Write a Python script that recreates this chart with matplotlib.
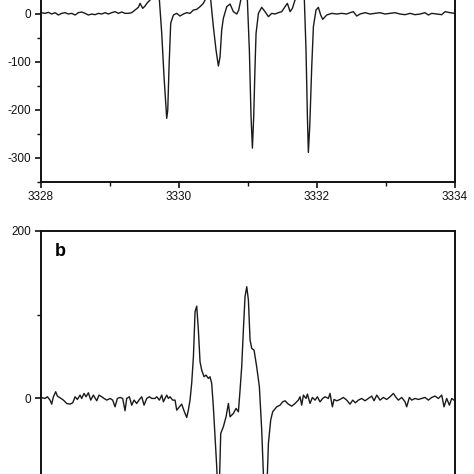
import matplotlib
matplotlib.use("Agg")
import matplotlib.pyplot as plt
from matplotlib.ticker import MultipleLocator

plt.rcParams['font.family'] = ['Liberation Sans', 'DejaVu Sans']
plt.rcParams['axes.unicode_minus'] = False

# panel a: field (G) and signal (a.u.)
field_a = [3328.000, 3328.063, 3328.111, 3328.159, 3328.208, 3328.256, 3328.304, 3328.353,
           3328.401, 3328.449, 3328.498, 3328.546, 3328.594, 3328.643, 3328.691, 3328.739,
           3328.787, 3328.836, 3328.884, 3328.932, 3328.981, 3329.029, 3329.077, 3329.126,
           3329.174, 3329.222, 3329.271, 3329.319, 3329.367, 3329.415, 3329.440, 3329.478,
           3329.512, 3329.546, 3329.585, 3329.657, 3329.720, 3329.754, 3329.787, 3329.826,
           3329.841, 3329.860, 3329.884, 3329.923, 3329.971, 3330.019, 3330.068, 3330.116,
           3330.164, 3330.213, 3330.261, 3330.309, 3330.357, 3330.382, 3330.415, 3330.464,
           3330.502, 3330.541, 3330.575, 3330.599, 3330.623, 3330.647, 3330.696, 3330.744,
           3330.792, 3330.841, 3330.870, 3330.899, 3330.952, 3330.995, 3331.024, 3331.048,
           3331.068, 3331.087, 3331.106, 3331.121, 3331.155, 3331.203, 3331.251, 3331.300,
           3331.348, 3331.396, 3331.444, 3331.493, 3331.541, 3331.575, 3331.614, 3331.647,
           3331.686, 3331.749, 3331.821, 3331.845, 3331.865, 3331.879, 3331.899, 3331.928,
           3331.952, 3331.990, 3332.024, 3332.058, 3332.087, 3332.145, 3332.217, 3332.290,
           3332.362, 3332.435, 3332.483, 3332.531, 3332.580, 3332.628, 3332.700, 3332.773,
           3332.845, 3332.918, 3332.990, 3333.063, 3333.135, 3333.208, 3333.280, 3333.353,
           3333.425, 3333.498, 3333.570, 3333.618, 3333.667, 3333.739, 3333.812, 3333.860,
           3333.932, 3334.000]
signal_a = [2.1, 0.7, 2.8, -0.7, 2.1, -2.8, 0.7, 2.1,
            -0.7, 0.7, -2.8, 2.1, 3.5, 0.7, -2.8, -0.7,
            -2.1, 0.7, -0.7, 2.1, -0.7, 2.1, 4.2, 0.7,
            3.5, 0.7, 0.7, 2.1, 7.6, 13.2, 21.5, 11.1,
            16.0, 22.9, 28.5, 180, 28.5, -41, -131, -218,
            -201, -110, -20, -2.8, 0.7, -4.9, -0.7, 2.1,
            0.7, 7.6, 9.0, 14.6, 21.5, 28.5, 120, 28.5,
            -27, -76, -109, -90, -34, -9.7, 14.6, 20.1,
            4.2, -0.7, 7.6, 28.5, 200, 28.5, -76, -214,
            -280, -214, -110, -41, 0.7, 13.2, 4.2, -6.2,
            0.7, -0.7, 2.1, 4.2, 14.6, 21.5, 4.2, 11.1,
            28.5, 230, 28.5, -76, -214, -289, -235, -110,
            -27, 7.6, 13.2, -2.8, -11.8, -2.8, 0.7, -0.7,
            0.7, -0.7, 2.1, 4.2, -4.9, -0.7, 2.1, -0.7,
            0.7, 2.1, -0.7, 0.7, 2.1, -0.7, -2.1, 0.7,
            -2.1, -0.7, 2.1, -2.8, 0.7, -0.7, -2.1, 4.2,
            2.1, 0.7]
ticks_a = [-300, -200, -100, 0]

# panel b
field_b = [3328.000, 3328.063, 3328.097, 3328.135, 3328.159, 3328.184, 3328.217, 3328.242,
           3328.280, 3328.329, 3328.377, 3328.425, 3328.464, 3328.498, 3328.531, 3328.570,
           3328.594, 3328.628, 3328.657, 3328.691, 3328.725, 3328.763, 3328.812, 3328.845,
           3328.884, 3328.918, 3328.957, 3329.005, 3329.043, 3329.077, 3329.111, 3329.150,
           3329.188, 3329.222, 3329.246, 3329.285, 3329.319, 3329.353, 3329.391, 3329.430,
           3329.464, 3329.498, 3329.536, 3329.575, 3329.609, 3329.657, 3329.681, 3329.720,
           3329.754, 3329.778, 3329.826, 3329.850, 3329.874, 3329.913, 3329.947, 3329.971,
           3330.010, 3330.043, 3330.082, 3330.116, 3330.140, 3330.164, 3330.188, 3330.213,
           3330.237, 3330.261, 3330.285, 3330.309, 3330.333, 3330.367, 3330.396, 3330.430,
           3330.454, 3330.478, 3330.502, 3330.527, 3330.551, 3330.577, 3330.609, 3330.647,
           3330.686, 3330.720, 3330.744, 3330.792, 3330.831, 3330.865, 3330.889, 3330.913,
           3330.937, 3330.961, 3330.986, 3331.010, 3331.034, 3331.058, 3331.092, 3331.130,
           3331.169, 3331.203, 3331.227, 3331.256, 3331.285, 3331.300, 3331.333, 3331.362,
           3331.420, 3331.469, 3331.507, 3331.541, 3331.589, 3331.638, 3331.686, 3331.734,
           3331.758, 3331.783, 3331.807, 3331.845, 3331.865, 3331.903, 3331.937, 3331.976,
           3332.010, 3332.048, 3332.087, 3332.121, 3332.169, 3332.193, 3332.227, 3332.251,
           3332.290, 3332.338, 3332.386, 3332.435, 3332.483, 3332.522, 3332.560, 3332.604,
           3332.652, 3332.700, 3332.749, 3332.797, 3332.831, 3332.870, 3332.918, 3332.966,
           3333.014, 3333.063, 3333.111, 3333.150, 3333.184, 3333.232, 3333.280, 3333.304,
           3333.343, 3333.377, 3333.425, 3333.473, 3333.522, 3333.570, 3333.618, 3333.667,
           3333.715, 3333.763, 3333.812, 3333.845, 3333.884, 3333.923, 3333.957, 3333.990]
signal_b = [1.2, 0, 2.0, -2.0, -6.8, 2.0, 8.0, 2.8,
            0.8, -2.0, -6.0, -6.8, -5.2, 2.0, -1.2, 4.0,
            0, 6.0, 2.0, 6.8, -2.0, 4.0, -2.8, 4.0,
            2.0, 0, -2.0, 0, -2.0, -10.0, 0, 1.2,
            0, -14.7, 0, 2.0, -8.0, -2.0, -6.0, -1.2,
            2.0, -8.0, 0, 2.0, 0, 0, 2.0, -2.0,
            4.0, -4.0, 4.0, 0, 2.0, -2.0, -2.0, -13.9,
            -10.0, -6.8, -15.9, -22.7, -13.9, -2.0, 17.9, 49.8,
            103.5, 110.2, 81.6, 43.8, 33.8, 25.9, 27.9, 23.9,
            25.9, 17.9, -10.0, -45.8, -81.6, -140, -41.8, -33.8,
            -21.9, -6.0, -21.9, -17.9, -11.9, -15.9, 10.0, 37.8,
            81.6, 121.4, 133.3, 117.4, 69.7, 59.7, 57.7, 37.8,
            13.9, -37.8, -89.6, -170, -90, -53.7, -25.9, -15.9,
            -10.0, -8.0, -4.0, -2.8, -6.8, -9.2, -6.0, -2.0,
            2.0, -8.0, 4.0, 0, 5.2, -6.0, 1.2, -2.0,
            2.0, -4.0, 0, 2.0, 0, 6.0, -10.0, -1.2,
            -2.8, -1.2, 1.2, -2.0, -6.8, -2.0, -5.2, -2.0,
            0, -2.8, 0, 2.8, -2.8, 4.0, -2.0, 1.2,
            -1.2, 2.0, 6.0, 1.2, -2.0, 1.2, -4.0, -10.0,
            1.2, -2.0, 0, -1.2, 0, 1.2, -2.0, 1.2,
            2.8, 0, 4.0, -10.0, 0, -8.0, 0, -2.0]
ticks_b = [0, 200]


def style_axes(ax, yticks, yminor):
    for sp in ax.spines.values():
        sp.set_linewidth(1.4)
        sp.set_color('#111111')
    ax.xaxis.set_major_locator(MultipleLocator(2))
    ax.xaxis.set_minor_locator(MultipleLocator(1))
    ax.set_yticks(yticks)
    ax.yaxis.set_minor_locator(MultipleLocator(yminor))
    ax.tick_params(which='major', direction='out', length=4, width=1.2,
                   labelsize=8.5, colors='#111111', pad=3)
    ax.tick_params(which='minor', direction='out', length=3, width=1.0,
                   colors='#111111')


fig = plt.figure(figsize=(4.74, 4.74), dpi=100)

# top panel (cropped at the top of the picture)
ax1 = fig.add_axes([0.0859, 0.6167, 0.8734, 0.6076])
ax1.plot(field_a, signal_a, color='#1a1a1a', lw=1.0)
ax1.set_xlim(3328, 3334)
ax1.set_ylim(-350, 250)
style_axes(ax1, ticks_a, 50)

# bottom panel (cropped at the bottom of the picture)
ax2 = fig.add_axes([0.0859, -0.371, 0.8734, 0.884])
ax2.plot(field_b, signal_b, color='#1a1a1a', lw=1.0)
ax2.set_xlim(3328, 3334)
ax2.set_ylim(-300, 200)
style_axes(ax2, ticks_b, 100)
ax2.tick_params(labelbottom=False)
ax2.text(0.035, 0.95, 'b', transform=ax2.transAxes, fontsize=13,
         fontweight='bold', va='center', ha='left')

fig.savefig('out.png', dpi=100)
